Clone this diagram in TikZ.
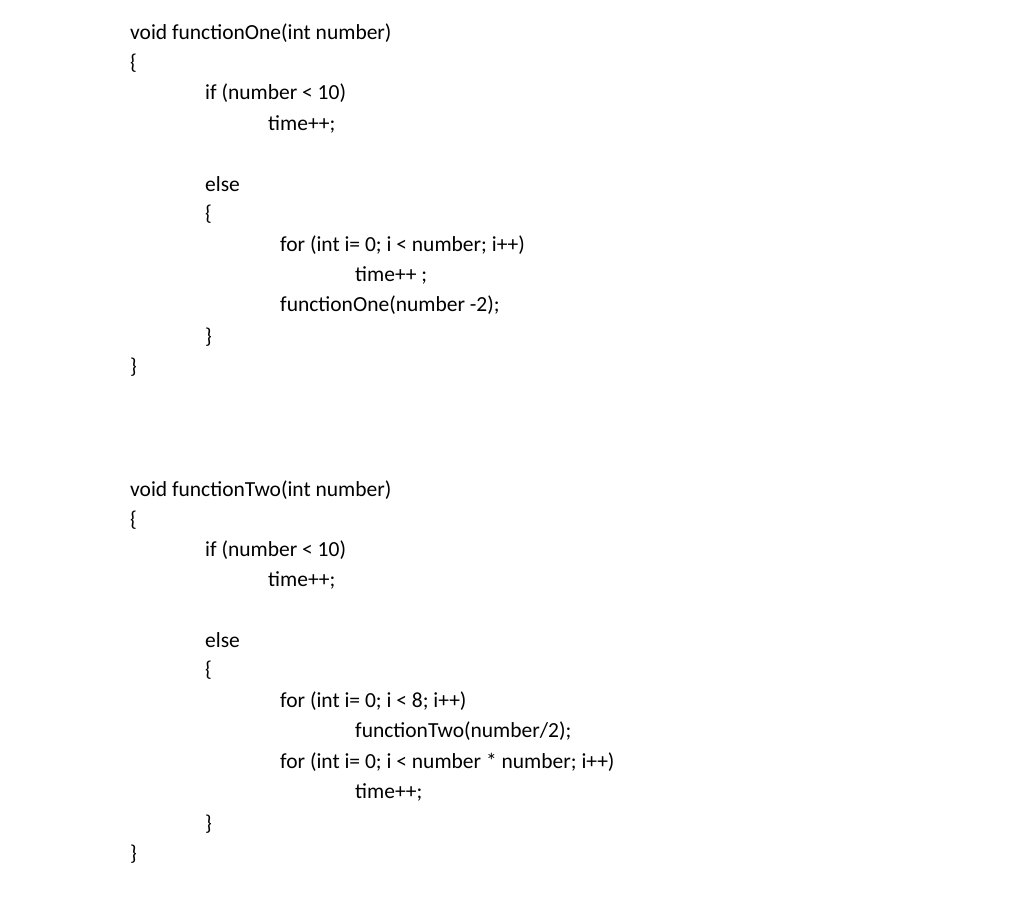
\documentclass[tikz,border=0pt]{standalone}
\usepackage{fontspec}
\setmainfont{Carlito}
\begin{document}
\begin{tikzpicture}[x=1pt,y=-1pt,code/.style={anchor=west,inner sep=0pt,font=\fontsize{21.5}{24}\selectfont}]
\useasboundingbox (0,0) rectangle (1024,904);
\node[code] (a1) at (130,33) {void functionOne(int number)};
\node[code] (a2) at (130,63) {\{};
\node[code] (a3) at (205,93) {if (number < 10)};
\node[code] (a4) at (268,124) {time++;};
\node[code] (a5) at (205,184) {else};
\node[code] (a6) at (205,214) {\{};
\node[code] (a7) at (280,245) {for (int i= 0; i < number; i++)};
\node[code] (a8) at (355,275) {time++ ;};
\node[code] (a9) at (280,305) {functionOne(number -2);};
\node[code] (a10) at (205,337) {\}};
\node[code] (a11) at (130,367) {\}};
\node[code] (b1) at (130,490) {void functionTwo(int number)};
\node[code] (b2) at (130,520) {\{};
\node[code] (b3) at (205,550) {if (number < 10)};
\node[code] (b4) at (268,580) {time++;};
\node[code] (b5) at (205,640) {else};
\node[code] (b6) at (205,670) {\{};
\node[code] (b7) at (280,701) {for (int i= 0; i < 8; i++)};
\node[code] (b8) at (355,731) {functionTwo(number/2);};
\node[code] (b9) at (280,762) {for (int i= 0; i < number * number; i++)};
\node[code] (b10) at (355,792) {time++;};
\node[code] (b11) at (205,824) {\}};
\node[code] (b12) at (130,854) {\}};
\end{tikzpicture}
\end{document}
